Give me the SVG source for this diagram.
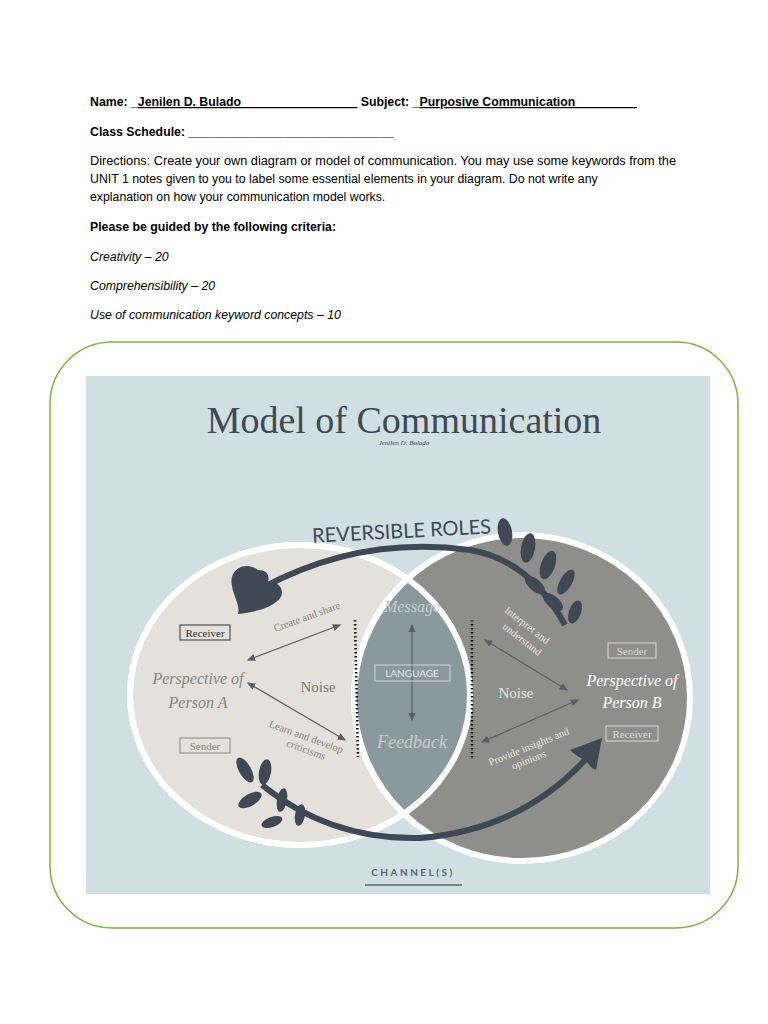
<svg xmlns="http://www.w3.org/2000/svg" width="768" height="1024" viewBox="0 0 768 1024">
<style>
.hd{font-family:"Liberation Sans",sans-serif;font-size:12.3px;fill:#000}
.it{font-style:italic}
.ser{font-family:"Liberation Serif",serif}
.lbl{font-family:"Liberation Serif",serif;font-size:10.5px}
</style>
<defs>
<marker id="ah" markerWidth="8" markerHeight="8" refX="6" refY="4" orient="auto-start-reverse"><path d="M0,1 L7,4 L0,7 z" fill="#5c5e63"/></marker>
<clipPath id="cl"><ellipse cx="300" cy="695" rx="170" ry="150"/></clipPath>
</defs>
<rect width="768" height="1024" fill="#fff"/>
<g id="header">
<text class="hd" x="90" y="106" font-weight="bold">Name: _<tspan text-decoration="underline">Jenilen D. Bulado_________________</tspan>  Subject: _<tspan text-decoration="underline">Purposive Communication_________</tspan></text>
<text class="hd" x="90" y="136" font-weight="bold">Class Schedule: ______________________________</text>
<text class="hd" x="90" y="165" textLength="586" lengthAdjust="spacingAndGlyphs">Directions: Create your own diagram or model of communication. You may use some keywords from the</text>
<text class="hd" x="90" y="183">UNIT 1 notes given to you to label some essential elements in your diagram. Do not write any</text>
<text class="hd" x="90" y="201">explanation on how your communication model works.</text>
<text class="hd" x="90" y="231" font-weight="bold">Please be guided by the following criteria:</text>
<text class="hd it" x="90" y="261">Creativity – 20</text>
<text class="hd it" x="90" y="290">Comprehensibility – 20</text>
<text class="hd it" x="90" y="319">Use of communication keyword concepts – 10</text>
</g>
<rect x="50" y="342" width="688" height="586" rx="62" fill="none" stroke="#7cb342" stroke-width="1.5"/>
<rect x="86" y="376" width="624" height="518" fill="#cfdfe2"/>
<g id="title">
<text class="ser" x="404" y="433" font-size="38" text-anchor="middle" fill="#3f4854">Model of Communication</text>
<text class="ser it" x="404" y="445" font-size="7" text-anchor="middle" fill="#3f4854">Jenilen D. Bulado</text>
</g>
<g id="circles">
<ellipse cx="300" cy="695" rx="170" ry="150" fill="#e4e0db" stroke="#fff" stroke-width="6"/>
<ellipse cx="522" cy="698" rx="168" ry="163" fill="#8e8e8a" stroke="#fff" stroke-width="6"/>
<ellipse cx="522" cy="698" rx="168" ry="163" fill="#8a999e" stroke="#fff" stroke-width="6" clip-path="url(#cl)"/>
<ellipse cx="300" cy="695" rx="170" ry="150" fill="none" stroke="#fff" stroke-width="6"/>
</g>
<g id="roles-arrows" fill="#3f4854" stroke="#3f4854">
<path d="M565,625 Q530,560 470,550 Q360,535 262,588" fill="none" stroke-width="6"/>
<path d="M258,570 C245,560 228,570 232,586 C234,598 240,604 238,614 C252,612 266,610 276,602 C288,594 280,580 268,582 C270,574 266,570 258,570 z" stroke="none"/>
<path d="M262,785 Q330,840 420,838 Q520,830 585,760" fill="none" stroke-width="6"/>
<path d="M570,750 L602,738 L596,770 C590,768 588,762 585,760 C580,758 574,754 570,750 z" stroke="none"/>
<g stroke="none">
<ellipse cx="505" cy="532" rx="7" ry="14" transform="rotate(-10 505 532)"/>
<ellipse cx="528" cy="548" rx="7" ry="15" transform="rotate(10 528 548)"/>
<ellipse cx="548" cy="565" rx="7" ry="15" transform="rotate(20 548 565)"/>
<ellipse cx="566" cy="582" rx="6" ry="14" transform="rotate(30 566 582)"/>
<ellipse cx="575" cy="612" rx="6" ry="12" transform="rotate(20 575 612)"/>
<ellipse cx="535" cy="585" rx="6" ry="12" transform="rotate(-50 535 585)"/>
<ellipse cx="553" cy="602" rx="6" ry="12" transform="rotate(-50 553 602)"/>
<ellipse cx="245" cy="770" rx="6" ry="14" transform="rotate(-30 245 770)"/>
<ellipse cx="265" cy="772" rx="6" ry="13" transform="rotate(10 265 772)"/>
<ellipse cx="250" cy="800" rx="6" ry="13" transform="rotate(60 250 800)"/>
<ellipse cx="282" cy="800" rx="5" ry="12" transform="rotate(10 282 800)"/>
<ellipse cx="272" cy="822" rx="5" ry="11" transform="rotate(70 272 822)"/>
<ellipse cx="300" cy="815" rx="5" ry="11" transform="rotate(10 300 815)"/>
</g>
</g>
<g id="reversible">
<text font-family="Lato,sans-serif" font-size="20" fill="#3f4854" x="402" y="538" text-anchor="middle" transform="rotate(-3 402 538)">REVERSIBLE ROLES</text>
</g>
<g id="connectors" stroke="#5c5e63" stroke-width="1.2" fill="none">
<line x1="340" y1="625" x2="248" y2="660" marker-start="url(#ah)" marker-end="url(#ah)"/>
<line x1="248" y1="683" x2="345" y2="740" marker-start="url(#ah)" marker-end="url(#ah)"/>
<line x1="485" y1="640" x2="567" y2="690" marker-start="url(#ah)" marker-end="url(#ah)"/>
<line x1="482" y1="742" x2="578" y2="700" marker-start="url(#ah)" marker-end="url(#ah)"/>
<line x1="412" y1="625" x2="412" y2="720" marker-start="url(#ah)" marker-end="url(#ah)" stroke="#55606a"/>
<line x1="355" y1="620" x2="358" y2="757" stroke="#000" stroke-width="2.5" stroke-dasharray="1.5 2.5"/>
<line x1="472" y1="620" x2="472" y2="760" stroke="#000" stroke-width="2.5" stroke-dasharray="1.5 2.5"/>
</g>
<g id="labels">
<text class="lbl" x="308" y="620" fill="#8a8480" transform="rotate(-20 308 620)" text-anchor="middle">Create and share</text>
<text class="lbl" x="525" y="628" fill="#e8e6e0" transform="rotate(38 525 628)" text-anchor="middle">Interpret and</text>
<text class="lbl" x="520" y="642" fill="#e8e6e0" transform="rotate(38 520 642)" text-anchor="middle">understand</text>
<text class="lbl" x="305" y="740" fill="#8a8480" transform="rotate(20 305 740)" text-anchor="middle">Learn and develop</text>
<text class="lbl" x="305" y="753" fill="#8a8480" transform="rotate(20 305 753)" text-anchor="middle">criticisms</text>
<text class="lbl" x="530" y="750" fill="#e8e6e0" transform="rotate(-22 530 750)" text-anchor="middle">Provide insights and</text>
<text class="lbl" x="530" y="763" fill="#e8e6e0" transform="rotate(-22 530 763)" text-anchor="middle">opinions</text>
<text class="ser it" x="412" y="612" font-size="16" fill="#c8cccc" text-anchor="middle">Message</text>
<text class="ser it" x="412" y="748" font-size="18" fill="#c8cccc" text-anchor="middle">Feedback</text>
<rect x="375" y="665" width="75" height="16" fill="none" stroke="#d0d4d6" stroke-width="1"/>
<text x="412" y="677" font-family="Lato,sans-serif" font-size="10" fill="#e6e8e8" text-anchor="middle">LANGUAGE</text>
<text class="ser" x="318" y="692" font-size="15" fill="#7c7874" text-anchor="middle">Noise</text>
<text class="ser" x="516" y="698" font-size="15" fill="#e6e6e2" text-anchor="middle">Noise</text>
<text class="ser it" x="198" y="684" font-size="16" fill="#8a8480" text-anchor="middle">Perspective of</text>
<text class="ser it" x="198" y="708" font-size="16" fill="#8a8480" text-anchor="middle">Person A</text>
<text class="ser it" x="632" y="686" font-size="16" fill="#fff" text-anchor="middle">Perspective of</text>
<text class="ser it" x="632" y="708" font-size="16" fill="#fff" text-anchor="middle">Person B</text>
<rect x="180" y="625" width="50" height="15" fill="none" stroke="#333"/>
<text class="ser" x="205" y="637" font-size="11" fill="#333" text-anchor="middle">Receiver</text>
<rect x="180" y="738" width="50" height="15" fill="none" stroke="#8a8480"/>
<text class="ser" x="205" y="750" font-size="11" fill="#8a8480" text-anchor="middle">Sender</text>
<rect x="608" y="643" width="48" height="15" fill="none" stroke="#d8d8d4"/>
<text class="ser" x="632" y="655" font-size="11" fill="#d8d8d4" text-anchor="middle">Sender</text>
<rect x="606" y="726" width="52" height="15" fill="none" stroke="#d8d8d4"/>
<text class="ser" x="632" y="738" font-size="11" fill="#d8d8d4" text-anchor="middle">Receiver</text>
<text x="413" y="876" font-family="Lato,sans-serif" font-size="10" letter-spacing="2.5" font-weight="bold" fill="#5c6570" text-anchor="middle">CHANNEL(S)</text>
<line x1="365" y1="885" x2="462" y2="885" stroke="#5c6570" stroke-width="1.5"/>
</g>
</svg>
